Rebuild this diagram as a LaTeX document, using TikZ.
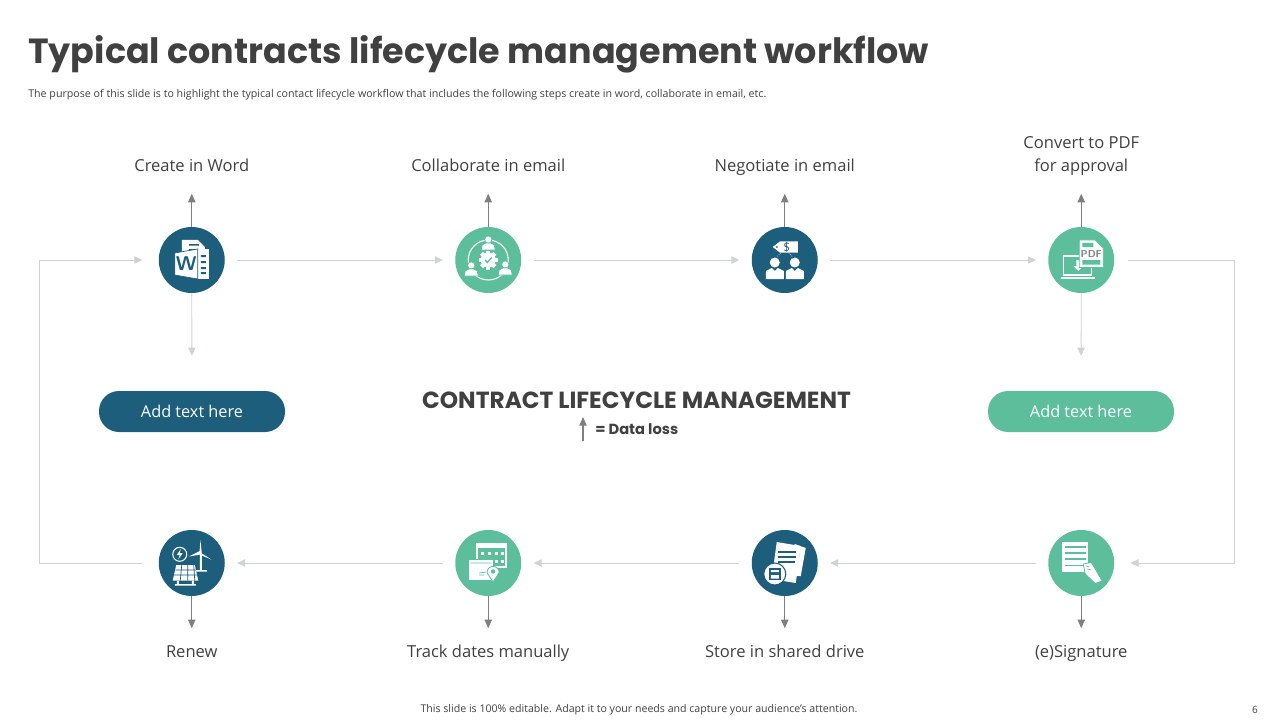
\documentclass[tikz,border=0pt]{standalone}
\usepackage{fontspec}
\usepackage{xcolor}
\setmainfont{Open Sans}
\newfontfamily\headfont{Poppins}
\usetikzlibrary{matrix,positioning,arrows.meta}

\definecolor{dkteal}{HTML}{1C5E7C}
\definecolor{mdgreen}{HTML}{5DBE9C}
\definecolor{txtgray}{HTML}{404040}
\definecolor{flowgray}{HTML}{D0D3D3}
\definecolor{lossgray}{HTML}{7F7F7F}

\tikzset{
 bluedot/.style={fill=dkteal},
 greendot/.style={fill=mdgreen},
 flowline/.style={draw=flowgray, line width=.6pt, shorten <=9pt, shorten >=9pt, -{Triangle[length=6pt,width=5.5pt]}},
 lossline/.style={draw=lossgray, line width=.8pt, -{Triangle[length=6.5pt,width=5.5pt]}},
 steplabel/.style={font=\fontsize{12.4pt}{17.4pt}\selectfont, text=txtgray, align=center, inner sep=0pt, execute at begin node=\strut, execute at end node=\strut},
 pillbox/.style={minimum width=139.5pt, minimum height=30.75pt, rounded corners=15pt, text=white, font=\fontsize{12.2pt}{15pt}\selectfont},
}

% one person: head and shoulders
\newcommand{\personicon}[3]{
 \fill[white,draw=#3,line width=.5pt] (#1,#2-3.5) circle (3.6);
 \fill[white,draw=#3,line width=.5pt] (#1-7,#2+7) -- (#1-6,#2+2) -- (#1-2.5,#2) -- (#1+2.5,#2) -- (#1+6,#2+2) -- (#1+7,#2+7) -- cycle;
}
\newcommand{\iconword}{
 \fill[white] (-10,-20) -- (6,-20) -- (13,-13) -- (13,-5) -- (-10,-5) -- cycle;
 \fill[dkteal] (-3,-16) rectangle (7,-14.5) (-3,-11) rectangle (9,-9.5);
 \fill[white] (5,-11) rectangle (17,19);
 \fill[dkteal] (9,-5) rectangle (14,-3) (9,1) rectangle (14,3) (9,7) rectangle (14,9) (9,12) rectangle (14,14);
 \fill[white,draw=dkteal,line width=.5pt] (-17,-7) -- (6,-11) -- (6,19) -- (-17,15) -- cycle;
 \node[font=\sffamily\bfseries\fontsize{15pt}{15pt}\selectfont, text=dkteal, inner sep=0pt] (wordW) at (-5.5,4) {W};
}
\newcommand{\iconteam}{
 \draw[white,line width=.8pt] (0,0) circle (20);
 \personicon{0}{-17}{mdgreen}
 \personicon{-17}{9}{mdgreen}
 \personicon{17}{8}{mdgreen}
 \foreach \a in {0,45,...,315} \fill[white,rotate=\a] (-2,-9.5) rectangle (2,0);
 \fill[white] (0,0) circle (7.5);
 \draw[mdgreen,line width=1pt] (-3,0) -- (-1,2.5) -- (3.5,-2.5);
}
\newcommand{\icontag}{
 \fill[white] (-12,-13) -- (-5,-18.5) -- (13,-18.5) -- (13,-7.5) -- (-5,-7.5) -- cycle;
 \fill[dkteal] (-8,-13) circle (1);
 \node[font=\sffamily\fontsize{9pt}{9pt}\selectfont, text=dkteal, inner sep=0pt] (tagD) at (2,-13) {\$};
 \draw[white,line width=.5pt,densely dotted] (-4,-7) -- (-8,-3) (4,-7) -- (8,-3);
 \fill[white] (-10,2.5) circle (5) (10,2.5) circle (5);
 \fill[white] (-19,19) -- (-19,11) -- (-13,8) -- (-10,11) -- (-7,8) -- (-1,11) -- (-1,19) -- cycle;
 \fill[white] (1,19) -- (1,11) -- (7,8) -- (10,11) -- (13,8) -- (19,11) -- (19,19) -- cycle;
}
\newcommand{\iconpdf}{
 \draw[white,line width=.8pt] (-17.5,15) -- (-17.5,-4) -- (10,-4) -- (10,15) -- cycle;
 \fill[white] (-20,17) rectangle (14,19);
 \fill[white] (-5,0) rectangle (-1,6) (-8,6) -- (2,6) -- (-3,11) -- cycle;
 \fill[white,draw=mdgreen,line width=.6pt] (-2,-20) -- (14,-20) -- (22,-12) -- (22,7.5) -- (-2,7.5) -- cycle;
 \fill[mdgreen] (1,-17) rectangle (12,-13) (1,0) rectangle (19,4.5);
 \node[font=\sffamily\bfseries\fontsize{7.5pt}{7.5pt}\selectfont, text=lossgray, inner sep=0pt] (pdfT) at (10,-6) {PDF};
}
\newcommand{\iconwind}{
 \draw[white,line width=.8pt] (-12,-8.7) circle (7);
 \fill[white] (-11,-14) -- (-15,-8) -- (-12,-8) -- (-13.5,-3.5) -- (-9,-10) -- (-12,-10) -- cycle;
 \fill[white] (7.7,-10) -- (8.7,-23) -- (10,-10) -- cycle;
 \fill[white] (8,-12) -- (-3,-6.5) -- (9,-8.5) -- cycle;
 \fill[white] (8,-11) -- (19.5,-3.5) -- (9,-8) -- cycle;
 \fill[white] (8,-10) rectangle (10,8) (4,7) rectangle (15,8.5);
 \fill[white] (-15.5,2) -- (3,2) -- (6.5,17.5) -- (-19,17.5) -- cycle;
 \draw[dkteal,line width=.5pt] (-10,2) -- (-11.5,17.5) (-4,2) -- (-4,17.5) (2,2) -- (3,17.5)
  (-16.5,7) -- (4,7) (-18,12) -- (5.5,12);
 \fill[white] (-15,17.5) rectangle (-13,22) (0,17.5) rectangle (2,22) (-17,21) rectangle (4,22.5);
}
\newcommand{\iconcalendar}{
 \fill[white] (-12,-20) rectangle (19,5);
 \fill[mdgreen] (-10,-15) rectangle (17,3);
 \foreach \px in {-7,0,7,13} \foreach \py in {-11,-3} \fill[white] (\px,\py) rectangle ++(3,3);
 \fill[white,draw=mdgreen,line width=.6pt] (-20,-4) rectangle (5,17);
 \draw[mdgreen,line width=.5pt] (-18,0) -- (3,0) (-9,10) -- (-2,9) (-9,12) -- (-4,12);
 \fill[white,draw=mdgreen,line width=.6pt] (4.8,19) -- (-1.3,9.5) arc[start angle=180, end angle=360, radius=6.1] -- cycle;
 \fill[mdgreen] (4.8,8.5) circle (2.2);
}
\newcommand{\icondrive}{
 \fill[white] (10,-19) -- (21,-15) -- (16,13) -- (6,13) -- cycle;
 \fill[dkteal] (13,-15) -- (15.5,-14) -- (12,8) -- (10,8) -- cycle;
 \fill[white] (-8,-21) -- (16,-17) -- (11,20) -- (-13,16) -- cycle;
 \draw[dkteal,line width=.8pt] (-7,-11) -- (11,-11) (-7,-6) -- (11,-6) (-7,-1) -- (10,-1);
 \fill[white,draw=dkteal,line width=.8pt] (-10,11) circle (11);
 \fill[dkteal] (-16,5) rectangle (-4,17);
 \fill[white] (-14,7) rectangle (-6,9) (-14,12) rectangle (-6,15.5);
}
\newcommand{\iconsign}{
 \fill[white] (-19,-21) rectangle (7,9);
 \draw[mdgreen,line width=.8pt] (-16,-16) -- (5,-16) (-16,-10) -- (5,-10) (-16,-4) -- (5,-4) (-16,2.5) -- (3,2.5);
 \fill[white,draw=mdgreen,line width=.6pt] (2,1) -- (10,-.5) -- (14,6) -- (21,18) -- (14,20.5) -- (4,11) -- cycle;
 \draw[mdgreen,line width=.5pt] (5,3) -- (8,4) (6,6) -- (10,7);
}

\begin{document}
\begin{tikzpicture}[x=.75pt,y=-.75pt]
\useasboundingbox (0,0) rectangle (1280,720);

\node[anchor=west, inner sep=0pt, text=txtgray, font=\headfont\bfseries\fontsize{26.2pt}{27pt}\selectfont] (title) at (28,54) {Typical contracts lifecycle management workflow};
\node[anchor=west, inner sep=0pt, text=txtgray, font=\fontsize{8pt}{9pt}\selectfont] (subtitle) at (28,95) {The purpose of this slide is to highlight the typical contact lifecycle workflow that includes the following steps create in word, collaborate in email, etc.};

\matrix[matrix of nodes, nodes={circle, inner sep=0pt, minimum size=49.5pt, anchor=center}, column sep=172.875pt, row sep=177.75pt] (A) at (636.5,411.5) {
 |[bluedot]| {} & |[greendot]| {} & |[bluedot]| {} & |[greendot]| {} \\
 |[bluedot]| {} & |[greendot]| {} & |[bluedot]| {} & |[greendot]| {} \\
};

% icons
\begin{scope}[shift={(A-1-1.center)}] \iconword \end{scope}
\begin{scope}[shift={(A-1-2.center)}] \iconteam \end{scope}
\begin{scope}[shift={(A-1-3.center)}] \icontag \end{scope}
\begin{scope}[shift={(A-1-4.center)}] \iconpdf \end{scope}
\begin{scope}[shift={(A-2-1.center)}] \iconwind \end{scope}
\begin{scope}[shift={(A-2-2.center)}] \iconcalendar \end{scope}
\begin{scope}[shift={(A-2-3.center)}] \icondrive \end{scope}
\begin{scope}[shift={(A-2-4.center)}] \iconsign \end{scope}

% labels
\node[steplabel, above=36.2pt of A-1-1] (lblword) {Create in Word};
\node[steplabel, above=36.2pt of A-1-2] (lblcollab) {Collaborate in email};
\node[steplabel, above=36.2pt of A-1-3] (lblnego) {Negotiate in email};
\node[steplabel, above=36.2pt of A-1-4] (lblpdf) {Convert to PDF\\for approval};
\node[steplabel, below=33.3pt of A-2-1] (lblrenew) {Renew};
\node[steplabel, below=33.3pt of A-2-2] (lbltrack) {Track dates manually};
\node[steplabel, below=33.3pt of A-2-3] (lblstore) {Store in shared drive};
\node[steplabel, below=33.3pt of A-2-4] (lblsign) {(e)Signature};

\node[pillbox, fill=dkteal] (pillL) at (192,411.5) {Add text here};
\node[pillbox, fill=mdgreen] (pillR) at (1081,411.5) {Add text here};

\node[inner sep=0pt, text=txtgray, font=\headfont\bfseries\fontsize{17.5pt}{20pt}\selectfont] (center) at (636.5,400.5) {CONTRACT LIFECYCLE MANAGEMENT};
\node[anchor=west, inner sep=0pt, text=txtgray, font=\headfont\bfseries\fontsize{11pt}{14pt}\selectfont] (dataloss) at (595,429.5) {= Data loss};
\coordinate (lossfoot) at (583,441);
\coordinate (losstip) at (583,417);
\draw[lossline] (lossfoot) -- (losstip);

% flow
\foreach \a/\b in {1/2,2/3,3/4} {
 \draw[flowline] (A-1-\a) -- (A-1-\b);
 \draw[flowline] (A-2-\b) -- (A-2-\a);
}
\coordinate (loopTL) at (39.5,260);
\coordinate (loopBL) at (39.5,563);
\coordinate (loopTR) at (1234.5,260);
\coordinate (loopBR) at (1234.5,563);
\draw[flowline, shorten <=12pt, shorten >=12pt] (A-2-1) -- (loopBL) -- (loopTL) -- (A-1-1);
\draw[flowline, shorten <=10pt, shorten >=12pt] (A-1-4) -- (loopTR) -- (loopBR) -- (A-2-4);
\draw[flowline, shorten <=0pt, shorten >=26.25pt] (A-1-1) -- (pillL);
\draw[flowline, shorten <=0pt, shorten >=26.25pt] (A-1-4) -- (pillR);

% data loss arrows
\foreach \c/\l in {A-1-1/lblword,A-1-2/lblcollab,A-1-3/lblnego,A-1-4/lblpdf}
 \draw[lossline, shorten >=11.4pt] (\c) -- (\l);
\foreach \c/\l in {A-2-1/lblrenew,A-2-2/lbltrack,A-2-3/lblstore,A-2-4/lblsign}
 \draw[lossline, shorten >=9.3pt] (\c) -- (\l);

\node[inner sep=0pt, text=txtgray, font=\fontsize{7.95pt}{9pt}\selectfont] (footer) at (639,710) {This slide is 100\% editable. Adapt it to your needs and capture your audience's attention.};
\node[inner sep=0pt, text=txtgray, font=\fontsize{7.5pt}{9pt}\selectfont] (pageno) at (1255,710) {6};
\end{tikzpicture}
\end{document}
